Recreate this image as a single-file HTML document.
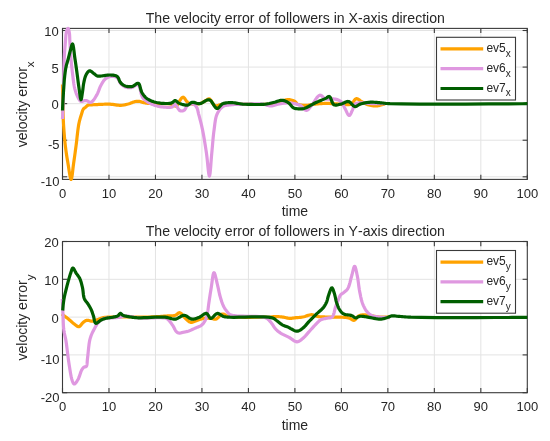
<!DOCTYPE html>
<html><head><meta charset="utf-8"><title>velocity error</title>
<style>html,body{margin:0;padding:0;background:#fff;}svg{display:block;font-kerning:none;}</style></head>
<body>
<svg width="550" height="441" viewBox="0 0 550 441" font-family="'Liberation Sans', Arial, Helvetica, sans-serif" fill="#262626">
<rect width="550" height="441" fill="#fff"/>
<line x1="108.98" y1="28.4" x2="108.98" y2="179.4" stroke="#e3e3e3" stroke-width="1"/>
<line x1="155.46" y1="28.4" x2="155.46" y2="179.4" stroke="#e3e3e3" stroke-width="1"/>
<line x1="201.94" y1="28.4" x2="201.94" y2="179.4" stroke="#e3e3e3" stroke-width="1"/>
<line x1="248.42" y1="28.4" x2="248.42" y2="179.4" stroke="#e3e3e3" stroke-width="1"/>
<line x1="294.90" y1="28.4" x2="294.90" y2="179.4" stroke="#e3e3e3" stroke-width="1"/>
<line x1="341.38" y1="28.4" x2="341.38" y2="179.4" stroke="#e3e3e3" stroke-width="1"/>
<line x1="387.86" y1="28.4" x2="387.86" y2="179.4" stroke="#e3e3e3" stroke-width="1"/>
<line x1="434.34" y1="28.4" x2="434.34" y2="179.4" stroke="#e3e3e3" stroke-width="1"/>
<line x1="480.82" y1="28.4" x2="480.82" y2="179.4" stroke="#e3e3e3" stroke-width="1"/>
<line x1="62.5" y1="30.50" x2="527.3" y2="30.50" stroke="#e3e3e3" stroke-width="1"/>
<line x1="62.5" y1="67.08" x2="527.3" y2="67.08" stroke="#e3e3e3" stroke-width="1"/>
<line x1="62.5" y1="103.65" x2="527.3" y2="103.65" stroke="#e3e3e3" stroke-width="1"/>
<line x1="62.5" y1="140.23" x2="527.3" y2="140.23" stroke="#e3e3e3" stroke-width="1"/>
<line x1="62.5" y1="176.80" x2="527.3" y2="176.80" stroke="#e3e3e3" stroke-width="1"/>
<rect x="62.5" y="28.4" width="464.8" height="151.0" fill="none" stroke="#3a3a3a" stroke-width="1.1"/>
<line x1="62.50" y1="179.4" x2="62.50" y2="174.70000000000002" stroke="#3a3a3a" stroke-width="1.1"/>
<line x1="62.50" y1="28.4" x2="62.50" y2="33.1" stroke="#3a3a3a" stroke-width="1.1"/>
<line x1="108.98" y1="179.4" x2="108.98" y2="174.70000000000002" stroke="#3a3a3a" stroke-width="1.1"/>
<line x1="108.98" y1="28.4" x2="108.98" y2="33.1" stroke="#3a3a3a" stroke-width="1.1"/>
<line x1="155.46" y1="179.4" x2="155.46" y2="174.70000000000002" stroke="#3a3a3a" stroke-width="1.1"/>
<line x1="155.46" y1="28.4" x2="155.46" y2="33.1" stroke="#3a3a3a" stroke-width="1.1"/>
<line x1="201.94" y1="179.4" x2="201.94" y2="174.70000000000002" stroke="#3a3a3a" stroke-width="1.1"/>
<line x1="201.94" y1="28.4" x2="201.94" y2="33.1" stroke="#3a3a3a" stroke-width="1.1"/>
<line x1="248.42" y1="179.4" x2="248.42" y2="174.70000000000002" stroke="#3a3a3a" stroke-width="1.1"/>
<line x1="248.42" y1="28.4" x2="248.42" y2="33.1" stroke="#3a3a3a" stroke-width="1.1"/>
<line x1="294.90" y1="179.4" x2="294.90" y2="174.70000000000002" stroke="#3a3a3a" stroke-width="1.1"/>
<line x1="294.90" y1="28.4" x2="294.90" y2="33.1" stroke="#3a3a3a" stroke-width="1.1"/>
<line x1="341.38" y1="179.4" x2="341.38" y2="174.70000000000002" stroke="#3a3a3a" stroke-width="1.1"/>
<line x1="341.38" y1="28.4" x2="341.38" y2="33.1" stroke="#3a3a3a" stroke-width="1.1"/>
<line x1="387.86" y1="179.4" x2="387.86" y2="174.70000000000002" stroke="#3a3a3a" stroke-width="1.1"/>
<line x1="387.86" y1="28.4" x2="387.86" y2="33.1" stroke="#3a3a3a" stroke-width="1.1"/>
<line x1="434.34" y1="179.4" x2="434.34" y2="174.70000000000002" stroke="#3a3a3a" stroke-width="1.1"/>
<line x1="434.34" y1="28.4" x2="434.34" y2="33.1" stroke="#3a3a3a" stroke-width="1.1"/>
<line x1="480.82" y1="179.4" x2="480.82" y2="174.70000000000002" stroke="#3a3a3a" stroke-width="1.1"/>
<line x1="480.82" y1="28.4" x2="480.82" y2="33.1" stroke="#3a3a3a" stroke-width="1.1"/>
<line x1="527.30" y1="179.4" x2="527.30" y2="174.70000000000002" stroke="#3a3a3a" stroke-width="1.1"/>
<line x1="527.30" y1="28.4" x2="527.30" y2="33.1" stroke="#3a3a3a" stroke-width="1.1"/>
<line x1="62.5" y1="30.50" x2="67.2" y2="30.50" stroke="#3a3a3a" stroke-width="1.1"/>
<line x1="527.3" y1="30.50" x2="522.5999999999999" y2="30.50" stroke="#3a3a3a" stroke-width="1.1"/>
<line x1="62.5" y1="67.08" x2="67.2" y2="67.08" stroke="#3a3a3a" stroke-width="1.1"/>
<line x1="527.3" y1="67.08" x2="522.5999999999999" y2="67.08" stroke="#3a3a3a" stroke-width="1.1"/>
<line x1="62.5" y1="103.65" x2="67.2" y2="103.65" stroke="#3a3a3a" stroke-width="1.1"/>
<line x1="527.3" y1="103.65" x2="522.5999999999999" y2="103.65" stroke="#3a3a3a" stroke-width="1.1"/>
<line x1="62.5" y1="140.23" x2="67.2" y2="140.23" stroke="#3a3a3a" stroke-width="1.1"/>
<line x1="527.3" y1="140.23" x2="522.5999999999999" y2="140.23" stroke="#3a3a3a" stroke-width="1.1"/>
<line x1="62.5" y1="176.80" x2="67.2" y2="176.80" stroke="#3a3a3a" stroke-width="1.1"/>
<line x1="527.3" y1="176.80" x2="522.5999999999999" y2="176.80" stroke="#3a3a3a" stroke-width="1.1"/>
<g fill="none" stroke-width="3.2" stroke-linejoin="round" stroke-linecap="butt">
<polyline points="62.50,84.50 62.51,84.94 62.53,86.13 62.56,87.93 62.60,90.15 62.65,92.63 62.70,95.21 62.75,97.72 62.80,100.00 62.85,102.54 62.90,105.17 62.95,107.87 63.01,110.62 63.08,113.40 63.16,116.20 63.27,119.01 63.40,121.80 63.57,124.73 63.75,127.71 63.96,130.72 64.19,133.74 64.44,136.75 64.71,139.70 64.99,142.60 65.30,145.40 65.59,147.79 65.89,150.13 66.22,152.42 66.55,154.68 66.90,156.91 67.26,159.12 67.63,161.31 68.00,163.50 68.37,165.76 68.75,168.30 69.15,170.94 69.55,173.51 69.96,175.82 70.35,177.69 70.74,178.95 71.10,179.40 71.44,178.94 71.77,177.68 72.09,175.81 72.40,173.50 72.70,170.93 73.00,168.29 73.30,165.75 73.60,163.50 73.92,161.31 74.24,159.10 74.55,156.87 74.86,154.63 75.17,152.36 75.48,150.07 75.79,147.75 76.10,145.40 76.44,142.71 76.77,139.87 77.09,136.95 77.42,134.03 77.76,131.16 78.11,128.43 78.49,125.88 78.90,123.60 79.19,122.25 79.49,120.98 79.80,119.78 80.11,118.65 80.44,117.56 80.76,116.51 81.08,115.50 81.40,114.50 81.64,113.72 81.87,112.94 82.09,112.17 82.32,111.44 82.55,110.74 82.81,110.09 83.09,109.51 83.40,109.00 83.63,108.71 83.88,108.46 84.14,108.25 84.40,108.06 84.67,107.88 84.95,107.70 85.23,107.51 85.50,107.30 85.80,107.03 86.11,106.74 86.42,106.44 86.73,106.14 87.05,105.85 87.37,105.59 87.68,105.37 88.00,105.20 88.24,105.11 88.46,105.06 88.68,105.03 88.90,105.02 89.14,105.02 89.39,105.02 89.68,105.02 90.00,105.00 90.88,104.93 91.96,104.86 93.19,104.77 94.52,104.69 95.91,104.61 97.32,104.53 98.70,104.46 100.00,104.40 101.25,104.35 102.49,104.29 103.73,104.24 104.97,104.20 106.22,104.17 107.47,104.16 108.73,104.16 110.00,104.20 111.37,104.29 112.77,104.45 114.20,104.65 115.63,104.85 117.04,105.05 118.42,105.21 119.74,105.30 121.00,105.30 121.95,105.24 122.86,105.14 123.74,105.00 124.59,104.84 125.44,104.65 126.28,104.44 127.13,104.23 128.00,104.00 128.94,103.72 129.91,103.39 130.88,103.02 131.85,102.64 132.81,102.28 133.75,101.95 134.65,101.68 135.50,101.50 136.12,101.41 136.72,101.36 137.30,101.32 137.87,101.32 138.43,101.33 138.97,101.37 139.49,101.43 140.00,101.50 140.40,101.58 140.77,101.69 141.12,101.82 141.46,101.96 141.81,102.10 142.17,102.25 142.57,102.38 143.00,102.50 143.71,102.66 144.45,102.80 145.24,102.94 146.08,103.07 146.98,103.19 147.92,103.30 148.93,103.40 150.00,103.50 152.08,103.61 154.54,103.64 157.25,103.63 160.07,103.61 162.89,103.60 165.57,103.64 167.98,103.77 170.00,104.00 170.99,104.24 171.91,104.59 172.77,104.99 173.57,105.39 174.32,105.74 175.02,106.00 175.68,106.10 176.30,106.00 176.82,105.69 177.27,105.20 177.67,104.57 178.03,103.86 178.37,103.10 178.72,102.34 179.09,101.62 179.50,101.00 179.92,100.43 180.35,99.81 180.79,99.17 181.24,98.56 181.70,98.02 182.16,97.59 182.63,97.30 183.10,97.20 183.64,97.38 184.18,97.85 184.72,98.52 185.27,99.33 185.83,100.19 186.40,101.02 186.99,101.75 187.60,102.30 188.11,102.64 188.62,102.93 189.14,103.19 189.67,103.41 190.21,103.60 190.78,103.76 191.37,103.89 192.00,104.00 192.89,104.10 193.86,104.16 194.90,104.16 195.96,104.12 197.03,104.03 198.07,103.89 199.07,103.72 200.00,103.50 200.75,103.26 201.47,102.96 202.17,102.62 202.84,102.25 203.50,101.87 204.14,101.49 204.78,101.13 205.40,100.80 205.92,100.51 206.42,100.17 206.90,99.82 207.38,99.49 207.86,99.20 208.33,98.98 208.81,98.87 209.30,98.90 209.99,99.27 210.66,99.99 211.33,100.97 212.00,102.08 212.69,103.21 213.42,104.25 214.18,105.09 215.00,105.60 215.77,105.78 216.55,105.78 217.35,105.65 218.18,105.42 219.05,105.15 219.98,104.88 220.95,104.65 222.00,104.50 223.82,104.38 225.80,104.32 227.93,104.29 230.19,104.28 232.55,104.29 234.98,104.31 237.47,104.31 240.00,104.30 243.48,104.30 247.29,104.35 251.30,104.42 255.38,104.49 259.42,104.50 263.29,104.45 266.86,104.29 270.00,104.00 271.80,103.72 273.48,103.37 275.07,102.98 276.58,102.56 278.01,102.13 279.39,101.71 280.71,101.33 282.00,101.00 282.91,100.77 283.76,100.53 284.58,100.28 285.38,100.05 286.15,99.86 286.92,99.70 287.70,99.61 288.50,99.60 289.34,99.67 290.21,99.80 291.09,99.99 291.97,100.22 292.82,100.50 293.62,100.82 294.35,101.15 295.00,101.50 295.40,101.79 295.73,102.11 296.02,102.46 296.28,102.82 296.55,103.18 296.84,103.52 297.18,103.83 297.60,104.10 298.33,104.42 299.17,104.69 300.10,104.90 301.09,105.08 302.13,105.21 303.19,105.30 304.25,105.37 305.30,105.40 306.50,105.38 307.73,105.27 308.98,105.10 310.26,104.90 311.55,104.67 312.84,104.45 314.12,104.25 315.40,104.10 316.66,103.98 317.90,103.86 319.13,103.74 320.37,103.64 321.62,103.55 322.90,103.48 324.23,103.43 325.60,103.40 327.39,103.41 329.28,103.47 331.25,103.57 333.25,103.69 335.26,103.82 337.22,103.94 339.12,104.04 340.90,104.10 342.29,104.17 343.67,104.29 345.03,104.43 346.35,104.55 347.62,104.61 348.82,104.58 349.96,104.42 351.00,104.10 351.81,103.60 352.53,102.89 353.19,102.04 353.81,101.14 354.41,100.28 355.01,99.53 355.63,98.97 356.30,98.70 356.92,98.71 357.55,98.90 358.19,99.22 358.84,99.65 359.49,100.13 360.15,100.63 360.82,101.10 361.50,101.50 362.25,101.91 363.00,102.34 363.75,102.77 364.52,103.21 365.30,103.63 366.11,104.03 366.94,104.39 367.80,104.70 368.84,105.00 369.95,105.28 371.11,105.52 372.29,105.72 373.46,105.87 374.61,105.97 375.70,106.02 376.70,106.00 377.42,105.93 378.11,105.80 378.77,105.64 379.42,105.45 380.04,105.24 380.64,105.04 381.23,104.85 381.80,104.70 382.28,104.59 382.80,104.47 383.33,104.35 383.85,104.24 384.30,104.15 384.67,104.07 384.91,104.02 385.00,104.00" stroke="#ffa200"/>
<polyline points="62.50,119.00 62.52,118.49 62.58,117.09 62.66,114.97 62.76,112.33 62.88,109.32 62.99,106.15 63.10,102.98 63.20,100.00 63.32,95.50 63.43,90.43 63.53,84.98 63.64,79.36 63.75,73.76 63.88,68.36 64.03,63.38 64.20,59.00 64.33,56.49 64.46,54.13 64.61,51.90 64.76,49.78 64.91,47.75 65.07,45.79 65.24,43.88 65.40,42.00 65.52,40.52 65.62,39.05 65.72,37.59 65.82,36.19 65.94,34.85 66.09,33.61 66.27,32.49 66.50,31.50 66.66,30.97 66.84,30.43 67.03,29.90 67.23,29.42 67.43,29.00 67.63,28.68 67.82,28.47 68.00,28.40 68.19,28.52 68.37,28.82 68.55,29.27 68.72,29.84 68.88,30.48 69.03,31.16 69.17,31.84 69.30,32.50 69.45,33.47 69.56,34.52 69.63,35.64 69.69,36.82 69.73,38.06 69.77,39.34 69.83,40.65 69.90,42.00 70.02,43.89 70.14,45.92 70.26,48.04 70.39,50.23 70.52,52.45 70.67,54.67 70.83,56.87 71.00,59.00 71.18,61.03 71.37,63.07 71.57,65.10 71.78,67.13 72.00,69.13 72.22,71.12 72.46,73.08 72.70,75.00 72.92,76.74 73.12,78.48 73.33,80.20 73.55,81.90 73.78,83.57 74.05,85.20 74.35,86.78 74.70,88.30 75.04,89.56 75.40,90.81 75.79,92.04 76.19,93.23 76.62,94.38 77.07,95.46 77.53,96.47 78.00,97.40 78.34,98.03 78.67,98.66 79.00,99.27 79.35,99.84 79.71,100.35 80.10,100.79 80.53,101.15 81.00,101.40 81.53,101.50 82.13,101.45 82.76,101.30 83.42,101.08 84.09,100.84 84.75,100.63 85.40,100.51 86.00,100.50 86.54,100.62 87.08,100.84 87.62,101.11 88.14,101.42 88.64,101.72 89.13,101.99 89.58,102.19 90.00,102.30 90.24,102.33 90.46,102.34 90.67,102.35 90.87,102.33 91.06,102.29 91.27,102.22 91.48,102.13 91.70,102.00 92.26,101.55 92.88,100.89 93.54,100.06 94.22,99.10 94.90,98.07 95.57,96.99 96.21,95.92 96.80,94.90 97.38,93.78 97.91,92.60 98.41,91.37 98.89,90.11 99.37,88.86 99.85,87.65 100.36,86.48 100.90,85.40 101.37,84.53 101.84,83.68 102.31,82.85 102.79,82.04 103.30,81.28 103.83,80.56 104.39,79.90 105.00,79.30 105.59,78.80 106.22,78.33 106.87,77.90 107.55,77.51 108.24,77.17 108.95,76.88 109.67,76.66 110.40,76.50 111.20,76.40 112.05,76.35 112.94,76.37 113.83,76.45 114.71,76.60 115.54,76.82 116.31,77.12 117.00,77.50 117.59,78.02 118.09,78.70 118.51,79.48 118.89,80.33 119.27,81.20 119.66,82.04 120.09,82.83 120.60,83.50 121.12,84.05 121.67,84.58 122.23,85.08 122.82,85.56 123.43,85.99 124.07,86.38 124.72,86.72 125.40,87.00 126.15,87.24 126.95,87.44 127.79,87.58 128.64,87.67 129.50,87.71 130.36,87.70 131.19,87.63 132.00,87.50 132.80,87.23 133.60,86.77 134.40,86.20 135.19,85.60 135.95,85.06 136.68,84.64 137.37,84.43 138.00,84.50 138.76,85.18 139.37,86.42 139.88,88.07 140.33,89.97 140.77,91.98 141.23,93.92 141.76,95.64 142.40,97.00 142.90,97.74 143.41,98.39 143.94,98.99 144.49,99.53 145.07,100.04 145.68,100.53 146.32,101.01 147.00,101.50 147.86,102.07 148.77,102.63 149.74,103.17 150.74,103.68 151.78,104.16 152.84,104.61 153.92,105.03 155.00,105.40 156.19,105.76 157.43,106.07 158.72,106.35 160.01,106.59 161.31,106.80 162.59,106.96 163.82,107.10 165.00,107.20 165.95,107.27 166.91,107.34 167.86,107.39 168.79,107.41 169.68,107.40 170.52,107.33 171.30,107.20 172.00,107.00 172.46,106.75 172.87,106.41 173.24,106.00 173.59,105.58 173.92,105.19 174.26,104.86 174.61,104.65 175.00,104.60 175.60,104.88 176.22,105.54 176.85,106.45 177.50,107.50 178.17,108.58 178.84,109.56 179.52,110.34 180.20,110.80 180.69,110.94 181.21,111.01 181.73,111.02 182.25,110.96 182.77,110.84 183.27,110.67 183.75,110.46 184.20,110.20 184.69,109.77 185.11,109.17 185.49,108.46 185.85,107.70 186.22,106.93 186.61,106.20 187.07,105.58 187.60,105.10 188.21,104.75 188.91,104.44 189.66,104.19 190.43,104.00 191.21,103.87 191.96,103.83 192.67,103.87 193.30,104.00 193.82,104.21 194.31,104.51 194.77,104.88 195.21,105.31 195.62,105.79 196.00,106.31 196.36,106.85 196.70,107.40 197.06,108.10 197.36,108.85 197.60,109.64 197.82,110.49 198.02,111.38 198.22,112.31 198.44,113.28 198.70,114.30 199.13,115.91 199.59,117.64 200.08,119.48 200.57,121.41 201.07,123.42 201.56,125.48 202.04,127.58 202.50,129.70 203.03,132.36 203.55,135.13 204.06,138.01 204.56,140.94 205.04,143.92 205.51,146.90 205.96,149.87 206.40,152.80 206.82,156.01 207.23,159.68 207.62,163.53 207.99,167.30 208.36,170.70 208.71,173.46 209.06,175.32 209.40,176.00 209.73,175.32 210.04,173.46 210.35,170.69 210.64,167.29 210.93,163.53 211.22,159.68 211.51,156.01 211.80,152.80 212.08,149.88 212.35,146.91 212.61,143.92 212.87,140.95 213.14,138.01 213.43,135.14 213.75,132.36 214.10,129.70 214.38,127.58 214.64,125.48 214.90,123.41 215.18,121.41 215.50,119.47 215.90,117.63 216.39,115.90 217.00,114.30 217.56,113.11 218.17,111.96 218.82,110.87 219.53,109.83 220.28,108.88 221.08,108.01 221.92,107.25 222.80,106.60 223.64,106.13 224.52,105.77 225.44,105.51 226.40,105.31 227.39,105.17 228.40,105.05 229.44,104.93 230.50,104.80 231.80,104.65 233.13,104.54 234.50,104.47 235.90,104.42 237.35,104.39 238.85,104.37 240.39,104.34 242.00,104.30 244.29,104.22 246.80,104.11 249.45,103.99 252.16,103.88 254.85,103.81 257.44,103.79 259.85,103.85 262.00,104.00 263.31,104.19 264.54,104.47 265.70,104.81 266.80,105.16 267.87,105.49 268.92,105.76 269.96,105.94 271.00,106.00 271.90,105.93 272.77,105.77 273.60,105.54 274.43,105.26 275.27,104.97 276.13,104.68 277.04,104.41 278.00,104.20 279.35,103.96 280.79,103.72 282.30,103.49 283.86,103.28 285.43,103.11 287.00,103.00 288.53,102.95 290.00,103.00 291.34,103.11 292.69,103.28 294.04,103.50 295.36,103.77 296.65,104.09 297.90,104.47 299.09,104.91 300.20,105.40 301.11,105.97 301.97,106.71 302.78,107.54 303.56,108.39 304.31,109.18 305.05,109.83 305.77,110.26 306.50,110.40 307.17,110.24 307.81,109.86 308.43,109.31 309.05,108.62 309.66,107.85 310.28,107.02 310.93,106.19 311.60,105.40 312.56,104.19 313.57,102.71 314.62,101.07 315.68,99.42 316.75,97.88 317.82,96.58 318.87,95.64 319.90,95.20 320.61,95.25 321.30,95.58 321.97,96.10 322.64,96.74 323.33,97.42 324.04,98.08 324.79,98.63 325.60,99.00 326.60,99.20 327.69,99.25 328.83,99.20 330.00,99.10 331.18,98.98 332.34,98.90 333.45,98.89 334.50,99.00 335.38,99.18 336.26,99.38 337.12,99.61 337.95,99.88 338.76,100.20 339.52,100.57 340.24,101.00 340.90,101.50 341.51,102.11 342.05,102.81 342.52,103.59 342.96,104.42 343.38,105.29 343.80,106.17 344.23,107.05 344.70,107.90 345.25,108.92 345.82,110.11 346.40,111.37 346.98,112.61 347.55,113.73 348.12,114.65 348.67,115.27 349.20,115.50 349.62,115.36 350.03,114.96 350.43,114.37 350.82,113.64 351.21,112.82 351.58,111.97 351.95,111.14 352.30,110.40 352.64,109.62 352.92,108.77 353.18,107.88 353.43,106.98 353.71,106.13 354.03,105.33 354.42,104.65 354.90,104.10 355.40,103.74 355.95,103.46 356.54,103.26 357.17,103.11 357.84,103.00 358.54,102.93 359.26,102.86 360.00,102.80 361.07,102.75 362.21,102.78 363.41,102.87 364.66,103.00 365.95,103.15 367.28,103.29 368.63,103.42 370.00,103.50 371.93,103.56 374.24,103.61 376.72,103.65 379.18,103.67 381.44,103.69 383.29,103.70 384.54,103.70 385.00,103.70" stroke="#df98e0"/>
<polyline points="62.50,110.50 62.51,110.19 62.55,109.35 62.61,108.09 62.68,106.55 62.76,104.84 62.84,103.10 62.93,101.44 63.00,100.00 63.07,98.74 63.14,97.50 63.21,96.27 63.28,95.04 63.35,93.81 63.43,92.56 63.51,91.29 63.60,90.00 63.70,88.55 63.79,87.06 63.89,85.56 63.99,84.03 64.10,82.51 64.22,80.99 64.35,79.48 64.50,78.00 64.65,76.59 64.80,75.17 64.97,73.75 65.14,72.35 65.33,70.97 65.53,69.61 65.75,68.28 66.00,67.00 66.24,65.94 66.49,64.91 66.76,63.92 67.05,62.94 67.34,61.97 67.63,61.00 67.92,60.01 68.20,59.00 68.49,57.89 68.77,56.74 69.06,55.58 69.34,54.42 69.63,53.26 69.92,52.13 70.21,51.04 70.50,50.00 70.75,49.10 71.00,48.12 71.26,47.12 71.51,46.15 71.77,45.29 72.02,44.61 72.26,44.15 72.50,44.00 72.85,44.46 73.19,45.68 73.51,47.48 73.82,49.68 74.13,52.11 74.42,54.59 74.71,56.95 75.00,59.00 75.27,60.77 75.53,62.52 75.78,64.26 76.03,66.00 76.27,67.73 76.51,69.48 76.76,71.23 77.00,73.00 77.25,74.86 77.50,76.76 77.74,78.67 77.99,80.59 78.23,82.49 78.48,84.37 78.74,86.21 79.00,88.00 79.24,89.69 79.49,91.58 79.74,93.52 80.00,95.40 80.25,97.09 80.51,98.45 80.76,99.37 81.00,99.70 81.19,99.48 81.39,98.88 81.58,97.98 81.78,96.86 81.96,95.62 82.15,94.34 82.33,93.10 82.50,92.00 82.67,90.87 82.82,89.72 82.96,88.54 83.10,87.34 83.25,86.15 83.40,84.98 83.59,83.82 83.80,82.70 84.01,81.68 84.23,80.65 84.46,79.62 84.70,78.62 84.97,77.64 85.27,76.70 85.61,75.82 86.00,75.00 86.36,74.33 86.74,73.65 87.15,72.97 87.59,72.33 88.04,71.77 88.51,71.31 89.00,70.97 89.50,70.80 90.02,70.82 90.57,71.02 91.14,71.35 91.73,71.78 92.32,72.25 92.90,72.75 93.46,73.21 94.00,73.60 94.45,73.92 94.88,74.26 95.29,74.61 95.70,74.96 96.11,75.29 96.53,75.58 96.96,75.82 97.40,76.00 97.82,76.11 98.23,76.16 98.65,76.18 99.07,76.16 99.51,76.13 99.97,76.08 100.47,76.04 101.00,76.00 101.97,75.91 103.08,75.77 104.27,75.59 105.52,75.39 106.80,75.21 108.06,75.07 109.27,74.99 110.40,75.00 111.33,75.05 112.26,75.11 113.19,75.20 114.09,75.32 114.95,75.50 115.77,75.75 116.52,76.08 117.20,76.50 117.78,77.07 118.25,77.78 118.64,78.60 118.99,79.47 119.33,80.37 119.69,81.23 120.10,82.02 120.60,82.70 121.11,83.24 121.65,83.74 122.22,84.22 122.81,84.66 123.42,85.06 124.06,85.42 124.72,85.73 125.40,86.00 126.18,86.24 127.00,86.44 127.86,86.58 128.74,86.68 129.63,86.72 130.51,86.71 131.37,86.64 132.20,86.50 133.02,86.21 133.85,85.73 134.67,85.14 135.48,84.51 136.26,83.94 137.00,83.49 137.68,83.25 138.30,83.30 138.91,83.78 139.40,84.63 139.80,85.75 140.16,87.06 140.49,88.46 140.83,89.84 141.23,91.12 141.70,92.20 142.15,92.98 142.63,93.74 143.12,94.47 143.63,95.17 144.15,95.84 144.69,96.47 145.24,97.05 145.80,97.60 146.30,98.03 146.81,98.43 147.33,98.80 147.87,99.14 148.41,99.45 148.94,99.75 149.48,100.03 150.00,100.30 150.44,100.52 150.86,100.72 151.28,100.90 151.69,101.07 152.12,101.23 152.58,101.39 153.07,101.54 153.60,101.70 154.53,101.95 155.57,102.22 156.70,102.48 157.88,102.72 159.10,102.95 160.32,103.14 161.53,103.30 162.70,103.40 163.86,103.46 165.06,103.51 166.28,103.52 167.49,103.50 168.67,103.44 169.78,103.32 170.80,103.14 171.70,102.90 172.23,102.66 172.70,102.33 173.13,101.95 173.53,101.56 173.92,101.20 174.30,100.89 174.69,100.68 175.10,100.60 175.52,100.67 175.93,100.87 176.34,101.16 176.75,101.51 177.17,101.89 177.60,102.27 178.04,102.62 178.50,102.90 179.03,103.16 179.58,103.41 180.15,103.65 180.74,103.88 181.33,104.09 181.92,104.28 182.51,104.45 183.10,104.60 183.66,104.74 184.23,104.87 184.79,105.00 185.36,105.10 185.93,105.18 186.49,105.21 187.05,105.19 187.60,105.10 188.18,104.89 188.74,104.56 189.28,104.15 189.83,103.69 190.38,103.24 190.95,102.83 191.55,102.50 192.20,102.30 193.02,102.26 193.88,102.39 194.79,102.64 195.72,102.95 196.68,103.27 197.65,103.53 198.62,103.70 199.60,103.70 200.78,103.42 202.01,102.87 203.26,102.16 204.53,101.39 205.79,100.66 207.01,100.08 208.19,99.76 209.30,99.80 210.39,100.37 211.42,101.43 212.40,102.81 213.35,104.34 214.27,105.85 215.17,107.16 216.08,108.10 217.00,108.50 217.72,108.38 218.42,107.95 219.09,107.31 219.77,106.53 220.46,105.69 221.18,104.89 221.96,104.20 222.80,103.70 223.84,103.33 224.97,103.06 226.15,102.88 227.38,102.76 228.64,102.70 229.90,102.68 231.16,102.68 232.40,102.70 233.64,102.76 234.85,102.90 236.06,103.09 237.27,103.32 238.52,103.55 239.83,103.77 241.21,103.96 242.70,104.10 245.20,104.24 248.04,104.36 251.09,104.44 254.25,104.49 257.40,104.48 260.42,104.42 263.19,104.29 265.60,104.10 266.92,103.93 268.14,103.73 269.28,103.50 270.36,103.25 271.40,102.99 272.42,102.72 273.45,102.45 274.50,102.20 275.50,101.94 276.49,101.62 277.47,101.29 278.44,100.96 279.41,100.67 280.35,100.44 281.29,100.31 282.20,100.30 283.03,100.40 283.86,100.58 284.68,100.83 285.48,101.14 286.27,101.51 287.04,101.91 287.78,102.34 288.50,102.80 289.20,103.35 289.86,104.00 290.49,104.72 291.11,105.47 291.71,106.20 292.32,106.88 292.95,107.46 293.60,107.90 294.13,108.15 294.66,108.34 295.19,108.49 295.73,108.59 296.28,108.66 296.84,108.72 297.41,108.76 298.00,108.80 298.69,108.85 299.40,108.90 300.11,108.92 300.85,108.92 301.60,108.89 302.37,108.82 303.17,108.69 304.00,108.50 305.28,108.08 306.64,107.49 308.07,106.77 309.53,105.98 311.02,105.14 312.51,104.30 313.98,103.51 315.40,102.80 316.73,102.20 318.10,101.60 319.48,101.01 320.84,100.44 322.16,99.89 323.41,99.36 324.57,98.87 325.60,98.40 326.17,98.09 326.70,97.74 327.19,97.38 327.66,97.04 328.10,96.75 328.54,96.54 328.97,96.45 329.40,96.50 330.00,96.96 330.53,97.85 331.02,99.03 331.50,100.37 331.99,101.74 332.54,103.01 333.16,104.04 333.90,104.70 334.64,104.98 335.45,105.09 336.31,105.08 337.21,104.96 338.14,104.77 339.08,104.54 340.00,104.31 340.90,104.10 341.85,103.82 342.82,103.41 343.80,102.94 344.77,102.45 345.74,102.01 346.69,101.66 347.61,101.47 348.50,101.50 349.36,101.83 350.19,102.43 351.00,103.23 351.79,104.11 352.57,104.99 353.34,105.76 354.12,106.33 354.90,106.60 355.55,106.58 356.18,106.39 356.81,106.08 357.43,105.68 358.07,105.24 358.73,104.81 359.44,104.41 360.20,104.10 361.30,103.77 362.50,103.45 363.76,103.16 365.07,102.89 366.42,102.66 367.76,102.46 369.10,102.31 370.40,102.20 371.66,102.15 372.93,102.17 374.20,102.23 375.47,102.33 376.73,102.44 378.00,102.57 379.25,102.69 380.50,102.80 381.63,102.90 382.64,103.01 383.60,103.13 384.57,103.25 385.63,103.38 386.85,103.49 388.28,103.60 390.00,103.70 401.37,103.96 419.49,104.08 441.81,104.10 465.79,104.04 488.88,103.94 508.52,103.83 522.18,103.74 527.30,103.70" stroke="#005e00"/>
</g>
<text x="62.50" y="198.0" text-anchor="middle" font-size="13">0</text>
<text x="108.98" y="198.0" text-anchor="middle" font-size="13">10</text>
<text x="155.46" y="198.0" text-anchor="middle" font-size="13">20</text>
<text x="201.94" y="198.0" text-anchor="middle" font-size="13">30</text>
<text x="248.42" y="198.0" text-anchor="middle" font-size="13">40</text>
<text x="294.90" y="198.0" text-anchor="middle" font-size="13">50</text>
<text x="341.38" y="198.0" text-anchor="middle" font-size="13">60</text>
<text x="387.86" y="198.0" text-anchor="middle" font-size="13">70</text>
<text x="434.34" y="198.0" text-anchor="middle" font-size="13">80</text>
<text x="480.82" y="198.0" text-anchor="middle" font-size="13">90</text>
<text x="527.30" y="198.0" text-anchor="middle" font-size="13">100</text>
<text x="58.8" y="36.1" text-anchor="end" font-size="13">10</text>
<text x="58.8" y="72.7" text-anchor="end" font-size="13">5</text>
<text x="58.8" y="109.2" text-anchor="end" font-size="13">0</text>
<text x="59.5" y="149.0" text-anchor="end" font-size="13">-5</text>
<text x="59.5" y="185.6" text-anchor="end" font-size="13">-10</text>
<text x="294.9" y="216.3" text-anchor="middle" font-size="14">time</text>
<text transform="translate(27.0,104.3) rotate(-90)" text-anchor="middle" font-size="14">velocity error<tspan font-size="11.6" dy="6.5">x</tspan></text>
<text x="295.3" y="22.8" text-anchor="middle" font-size="14.1">The velocity error of followers in X-axis direction</text>
<rect x="436.5" y="37.3" width="79" height="62.7" fill="#fff" stroke="#3a3a3a" stroke-width="1.1"/>
<line x1="440.5" y1="48.9" x2="483.2" y2="48.9" stroke="#ffa200" stroke-width="3.2"/>
<text x="486.4" y="51.9" font-size="12">ev5<tspan font-size="10" dy="4.8">x</tspan></text>
<line x1="440.5" y1="68.7" x2="483.2" y2="68.7" stroke="#df98e0" stroke-width="3.2"/>
<text x="486.4" y="71.7" font-size="12">ev6<tspan font-size="10" dy="4.8">x</tspan></text>
<line x1="440.5" y1="88.5" x2="483.2" y2="88.5" stroke="#005e00" stroke-width="3.2"/>
<text x="486.4" y="91.5" font-size="12">ev7<tspan font-size="10" dy="4.8">x</tspan></text>
<line x1="108.98" y1="241.5" x2="108.98" y2="392.7" stroke="#e3e3e3" stroke-width="1"/>
<line x1="155.46" y1="241.5" x2="155.46" y2="392.7" stroke="#e3e3e3" stroke-width="1"/>
<line x1="201.94" y1="241.5" x2="201.94" y2="392.7" stroke="#e3e3e3" stroke-width="1"/>
<line x1="248.42" y1="241.5" x2="248.42" y2="392.7" stroke="#e3e3e3" stroke-width="1"/>
<line x1="294.90" y1="241.5" x2="294.90" y2="392.7" stroke="#e3e3e3" stroke-width="1"/>
<line x1="341.38" y1="241.5" x2="341.38" y2="392.7" stroke="#e3e3e3" stroke-width="1"/>
<line x1="387.86" y1="241.5" x2="387.86" y2="392.7" stroke="#e3e3e3" stroke-width="1"/>
<line x1="434.34" y1="241.5" x2="434.34" y2="392.7" stroke="#e3e3e3" stroke-width="1"/>
<line x1="480.82" y1="241.5" x2="480.82" y2="392.7" stroke="#e3e3e3" stroke-width="1"/>
<line x1="62.5" y1="279.30" x2="527.3" y2="279.30" stroke="#e3e3e3" stroke-width="1"/>
<line x1="62.5" y1="317.10" x2="527.3" y2="317.10" stroke="#e3e3e3" stroke-width="1"/>
<line x1="62.5" y1="354.90" x2="527.3" y2="354.90" stroke="#e3e3e3" stroke-width="1"/>
<rect x="62.5" y="241.5" width="464.8" height="151.2" fill="none" stroke="#3a3a3a" stroke-width="1.1"/>
<line x1="62.50" y1="392.7" x2="62.50" y2="388.0" stroke="#3a3a3a" stroke-width="1.1"/>
<line x1="62.50" y1="241.5" x2="62.50" y2="246.2" stroke="#3a3a3a" stroke-width="1.1"/>
<line x1="108.98" y1="392.7" x2="108.98" y2="388.0" stroke="#3a3a3a" stroke-width="1.1"/>
<line x1="108.98" y1="241.5" x2="108.98" y2="246.2" stroke="#3a3a3a" stroke-width="1.1"/>
<line x1="155.46" y1="392.7" x2="155.46" y2="388.0" stroke="#3a3a3a" stroke-width="1.1"/>
<line x1="155.46" y1="241.5" x2="155.46" y2="246.2" stroke="#3a3a3a" stroke-width="1.1"/>
<line x1="201.94" y1="392.7" x2="201.94" y2="388.0" stroke="#3a3a3a" stroke-width="1.1"/>
<line x1="201.94" y1="241.5" x2="201.94" y2="246.2" stroke="#3a3a3a" stroke-width="1.1"/>
<line x1="248.42" y1="392.7" x2="248.42" y2="388.0" stroke="#3a3a3a" stroke-width="1.1"/>
<line x1="248.42" y1="241.5" x2="248.42" y2="246.2" stroke="#3a3a3a" stroke-width="1.1"/>
<line x1="294.90" y1="392.7" x2="294.90" y2="388.0" stroke="#3a3a3a" stroke-width="1.1"/>
<line x1="294.90" y1="241.5" x2="294.90" y2="246.2" stroke="#3a3a3a" stroke-width="1.1"/>
<line x1="341.38" y1="392.7" x2="341.38" y2="388.0" stroke="#3a3a3a" stroke-width="1.1"/>
<line x1="341.38" y1="241.5" x2="341.38" y2="246.2" stroke="#3a3a3a" stroke-width="1.1"/>
<line x1="387.86" y1="392.7" x2="387.86" y2="388.0" stroke="#3a3a3a" stroke-width="1.1"/>
<line x1="387.86" y1="241.5" x2="387.86" y2="246.2" stroke="#3a3a3a" stroke-width="1.1"/>
<line x1="434.34" y1="392.7" x2="434.34" y2="388.0" stroke="#3a3a3a" stroke-width="1.1"/>
<line x1="434.34" y1="241.5" x2="434.34" y2="246.2" stroke="#3a3a3a" stroke-width="1.1"/>
<line x1="480.82" y1="392.7" x2="480.82" y2="388.0" stroke="#3a3a3a" stroke-width="1.1"/>
<line x1="480.82" y1="241.5" x2="480.82" y2="246.2" stroke="#3a3a3a" stroke-width="1.1"/>
<line x1="527.30" y1="392.7" x2="527.30" y2="388.0" stroke="#3a3a3a" stroke-width="1.1"/>
<line x1="527.30" y1="241.5" x2="527.30" y2="246.2" stroke="#3a3a3a" stroke-width="1.1"/>
<line x1="62.5" y1="241.50" x2="67.2" y2="241.50" stroke="#3a3a3a" stroke-width="1.1"/>
<line x1="527.3" y1="241.50" x2="522.5999999999999" y2="241.50" stroke="#3a3a3a" stroke-width="1.1"/>
<line x1="62.5" y1="279.30" x2="67.2" y2="279.30" stroke="#3a3a3a" stroke-width="1.1"/>
<line x1="527.3" y1="279.30" x2="522.5999999999999" y2="279.30" stroke="#3a3a3a" stroke-width="1.1"/>
<line x1="62.5" y1="317.10" x2="67.2" y2="317.10" stroke="#3a3a3a" stroke-width="1.1"/>
<line x1="527.3" y1="317.10" x2="522.5999999999999" y2="317.10" stroke="#3a3a3a" stroke-width="1.1"/>
<line x1="62.5" y1="354.90" x2="67.2" y2="354.90" stroke="#3a3a3a" stroke-width="1.1"/>
<line x1="527.3" y1="354.90" x2="522.5999999999999" y2="354.90" stroke="#3a3a3a" stroke-width="1.1"/>
<line x1="62.5" y1="392.70" x2="67.2" y2="392.70" stroke="#3a3a3a" stroke-width="1.1"/>
<line x1="527.3" y1="392.70" x2="522.5999999999999" y2="392.70" stroke="#3a3a3a" stroke-width="1.1"/>
<g fill="none" stroke-width="3.2" stroke-linejoin="round" stroke-linecap="butt">
<polyline points="61.80,314.00 61.89,314.07 62.14,314.26 62.52,314.54 62.98,314.88 63.50,315.27 64.03,315.67 64.54,316.05 65.00,316.40 65.47,316.75 65.94,317.11 66.41,317.47 66.89,317.83 67.38,318.20 67.88,318.59 68.38,318.99 68.90,319.40 69.54,319.93 70.20,320.51 70.87,321.12 71.56,321.73 72.25,322.34 72.94,322.94 73.62,323.49 74.30,324.00 74.88,324.44 75.47,324.91 76.05,325.39 76.63,325.83 77.21,326.22 77.78,326.51 78.35,326.68 78.90,326.70 79.49,326.49 80.06,326.07 80.63,325.48 81.18,324.79 81.74,324.06 82.29,323.34 82.84,322.70 83.40,322.20 83.84,321.87 84.28,321.56 84.71,321.27 85.14,321.00 85.58,320.77 86.03,320.57 86.50,320.41 87.00,320.30 87.62,320.27 88.28,320.35 88.97,320.51 89.67,320.71 90.39,320.91 91.10,321.08 91.81,321.19 92.50,321.20 93.18,321.11 93.86,320.94 94.53,320.72 95.21,320.47 95.88,320.19 96.55,319.91 97.22,319.64 97.90,319.40 98.56,319.17 99.20,318.92 99.82,318.68 100.45,318.43 101.10,318.20 101.80,317.97 102.56,317.77 103.40,317.60 105.00,317.37 106.79,317.22 108.74,317.13 110.82,317.08 113.01,317.05 115.29,317.04 117.63,317.03 120.00,317.00 123.44,316.96 127.26,316.96 131.31,316.98 135.45,317.01 139.54,317.04 143.42,317.06 146.96,317.05 150.00,317.00 151.52,316.96 152.91,316.91 154.20,316.85 155.42,316.79 156.59,316.72 157.72,316.65 158.85,316.57 160.00,316.50 161.00,316.43 161.97,316.36 162.92,316.29 163.86,316.21 164.79,316.13 165.72,316.05 166.65,315.98 167.60,315.90 168.58,315.84 169.58,315.82 170.59,315.80 171.60,315.78 172.60,315.73 173.55,315.65 174.46,315.51 175.30,315.30 175.93,315.02 176.51,314.63 177.07,314.19 177.60,313.72 178.11,313.29 178.63,312.95 179.16,312.74 179.70,312.70 180.40,312.94 181.11,313.46 181.82,314.17 182.54,315.01 183.25,315.93 183.97,316.84 184.69,317.69 185.40,318.40 186.03,318.98 186.66,319.58 187.29,320.19 187.91,320.77 188.55,321.30 189.19,321.75 189.84,322.09 190.50,322.30 191.11,322.36 191.72,322.31 192.34,322.18 192.96,321.98 193.60,321.74 194.25,321.48 194.91,321.23 195.60,321.00 196.49,320.71 197.42,320.36 198.37,319.99 199.35,319.60 200.33,319.23 201.33,318.89 202.32,318.61 203.30,318.40 204.25,318.28 205.23,318.20 206.21,318.18 207.19,318.19 208.16,318.22 209.10,318.28 210.02,318.34 210.90,318.40 211.59,318.49 212.25,318.63 212.89,318.80 213.52,318.97 214.14,319.12 214.75,319.21 215.37,319.21 216.00,319.10 216.79,318.73 217.58,318.10 218.37,317.32 219.16,316.46 219.95,315.61 220.73,314.86 221.52,314.29 222.30,314.00 222.93,313.98 223.55,314.11 224.16,314.35 224.78,314.66 225.40,315.01 226.04,315.36 226.71,315.67 227.40,315.90 228.24,316.10 229.06,316.28 229.90,316.43 230.78,316.57 231.70,316.69 232.70,316.80 233.79,316.90 235.00,317.00 237.98,317.15 241.72,317.24 245.96,317.28 250.41,317.28 254.82,317.26 258.90,317.23 262.38,317.21 265.00,317.20 265.75,317.21 266.39,317.22 266.94,317.23 267.45,317.24 267.93,317.24 268.41,317.24 268.93,317.23 269.50,317.20 270.24,317.14 271.01,317.05 271.79,316.94 272.60,316.82 273.41,316.70 274.23,316.60 275.07,316.53 275.90,316.50 276.82,316.51 277.77,316.55 278.73,316.62 279.70,316.72 280.67,316.82 281.63,316.95 282.58,317.07 283.50,317.20 284.33,317.34 285.16,317.51 285.97,317.70 286.78,317.89 287.58,318.07 288.36,318.23 289.14,318.34 289.90,318.40 290.56,318.40 291.19,318.36 291.81,318.29 292.42,318.20 293.03,318.10 293.66,317.99 294.32,317.89 295.00,317.80 295.88,317.71 296.80,317.63 297.75,317.56 298.72,317.48 299.71,317.39 300.70,317.29 301.70,317.16 302.70,317.00 303.81,316.75 304.96,316.41 306.12,316.03 307.29,315.64 308.45,315.27 309.58,314.96 310.67,314.76 311.70,314.70 312.47,314.77 313.19,314.93 313.89,315.16 314.56,315.42 315.24,315.70 315.93,315.98 316.64,316.22 317.40,316.40 318.32,316.55 319.27,316.67 320.24,316.75 321.24,316.82 322.25,316.87 323.29,316.92 324.34,316.96 325.40,317.00 326.64,317.04 327.90,317.06 329.19,317.06 330.50,317.05 331.83,317.05 333.17,317.05 334.53,317.06 335.90,317.10 337.47,317.14 339.12,317.17 340.82,317.21 342.52,317.26 344.19,317.33 345.79,317.46 347.27,317.64 348.60,317.90 349.42,318.17 350.19,318.55 350.92,318.98 351.60,319.42 352.26,319.82 352.88,320.13 353.50,320.31 354.10,320.30 354.66,320.08 355.17,319.68 355.65,319.15 356.11,318.53 356.58,317.89 357.05,317.27 357.56,316.72 358.10,316.30 358.65,315.99 359.21,315.72 359.79,315.48 360.39,315.28 361.00,315.11 361.62,314.98 362.26,314.87 362.90,314.80 363.63,314.77 364.37,314.81 365.12,314.90 365.88,315.02 366.67,315.17 367.48,315.32 368.33,315.47 369.20,315.60 370.41,315.77 371.71,315.96 373.05,316.16 374.44,316.36 375.85,316.56 377.26,316.74 378.65,316.89 380.00,317.00 381.40,317.06 382.99,317.09 384.65,317.10 386.27,317.08 387.73,317.06 388.91,317.03 389.71,317.01 390.00,317.00" stroke="#ffa200"/>
<polyline points="62.30,299.00 62.32,299.47 62.37,300.76 62.45,302.68 62.55,305.03 62.67,307.63 62.78,310.29 62.90,312.81 63.00,315.00 63.08,316.92 63.15,318.85 63.21,320.79 63.28,322.71 63.36,324.61 63.47,326.46 63.61,328.26 63.80,330.00 64.00,331.37 64.23,332.65 64.49,333.87 64.77,335.07 65.06,336.29 65.35,337.56 65.63,338.92 65.90,340.40 66.27,342.83 66.64,345.50 67.00,348.37 67.36,351.34 67.72,354.36 68.10,357.35 68.49,360.26 68.90,363.00 69.28,365.39 69.65,367.86 70.04,370.34 70.44,372.75 70.85,375.05 71.27,377.15 71.72,378.99 72.20,380.50 72.43,381.13 72.66,381.75 72.88,382.33 73.12,382.85 73.36,383.30 73.62,383.66 73.90,383.90 74.20,384.00 74.61,383.91 75.06,383.60 75.55,383.12 76.06,382.50 76.57,381.78 77.07,381.02 77.55,380.24 78.00,379.50 78.54,378.45 79.05,377.22 79.52,375.89 79.98,374.51 80.42,373.15 80.87,371.87 81.33,370.73 81.80,369.80 82.08,369.34 82.36,368.92 82.64,368.54 82.92,368.19 83.20,367.87 83.49,367.58 83.79,367.33 84.10,367.10 84.37,366.97 84.65,366.89 84.95,366.85 85.25,366.82 85.54,366.79 85.82,366.72 86.07,366.60 86.30,366.40 86.63,365.85 86.86,365.10 87.02,364.21 87.12,363.19 87.20,362.08 87.27,360.90 87.37,359.70 87.50,358.50 87.74,356.53 87.98,354.29 88.21,351.87 88.46,349.36 88.73,346.87 89.01,344.48 89.34,342.29 89.70,340.40 89.95,339.36 90.21,338.39 90.49,337.48 90.77,336.63 91.07,335.81 91.37,335.03 91.68,334.26 92.00,333.50 92.27,332.89 92.54,332.31 92.81,331.75 93.09,331.21 93.38,330.67 93.67,330.13 93.98,329.58 94.30,329.00 94.67,328.31 95.05,327.58 95.43,326.84 95.82,326.10 96.24,325.36 96.69,324.64 97.17,323.95 97.70,323.30 98.28,322.65 98.88,322.00 99.51,321.37 100.18,320.77 100.89,320.20 101.66,319.68 102.49,319.21 103.40,318.80 104.90,318.36 106.64,318.08 108.55,317.92 110.56,317.84 112.58,317.80 114.55,317.75 116.38,317.67 118.00,317.50 118.98,317.32 119.87,317.10 120.70,316.87 121.50,316.63 122.29,316.41 123.12,316.22 124.01,316.08 125.00,316.00 126.57,316.02 128.26,316.19 130.04,316.46 131.90,316.80 133.84,317.16 135.84,317.51 137.90,317.80 140.00,318.00 142.99,318.10 146.40,318.09 150.04,318.00 153.71,317.87 157.23,317.77 160.42,317.72 163.07,317.79 165.00,318.00 165.46,318.10 165.85,318.19 166.18,318.29 166.46,318.39 166.73,318.52 167.00,318.68 167.28,318.87 167.60,319.10 168.20,319.62 168.84,320.27 169.50,321.04 170.17,321.88 170.83,322.76 171.49,323.67 172.11,324.56 172.70,325.40 173.22,326.22 173.71,327.10 174.18,328.01 174.64,328.91 175.09,329.77 175.54,330.57 176.01,331.25 176.50,331.80 176.81,332.07 177.12,332.31 177.43,332.52 177.75,332.69 178.07,332.83 178.40,332.95 178.74,333.04 179.10,333.10 179.53,333.13 179.98,333.10 180.44,333.02 180.91,332.92 181.40,332.79 181.89,332.65 182.39,332.52 182.90,332.40 183.50,332.28 184.10,332.16 184.72,332.03 185.35,331.90 185.99,331.76 186.65,331.59 187.32,331.41 188.00,331.20 188.89,330.89 189.82,330.54 190.79,330.15 191.76,329.73 192.75,329.30 193.72,328.86 194.68,328.42 195.60,328.00 196.45,327.63 197.31,327.28 198.16,326.93 199.00,326.58 199.82,326.20 200.59,325.79 201.33,325.33 202.00,324.80 202.60,324.22 203.17,323.59 203.69,322.91 204.17,322.19 204.63,321.45 205.04,320.68 205.44,319.89 205.80,319.10 206.15,318.22 206.45,317.30 206.72,316.34 206.95,315.37 207.16,314.38 207.35,313.40 207.52,312.44 207.70,311.50 207.85,310.68 207.97,309.90 208.07,309.14 208.17,308.37 208.26,307.59 208.35,306.76 208.47,305.87 208.60,304.90 208.86,303.08 209.16,301.03 209.49,298.81 209.84,296.48 210.20,294.09 210.57,291.70 210.94,289.39 211.30,287.20 211.62,285.11 211.93,282.77 212.25,280.35 212.57,278.00 212.90,275.90 213.24,274.18 213.61,273.03 214.00,272.60 214.39,272.93 214.80,273.88 215.24,275.29 215.68,277.03 216.13,278.96 216.57,280.94 217.00,282.84 217.40,284.50 217.77,286.03 218.12,287.57 218.45,289.13 218.78,290.69 219.10,292.23 219.44,293.76 219.81,295.25 220.20,296.70 220.57,297.98 220.96,299.25 221.35,300.51 221.75,301.75 222.18,302.95 222.62,304.12 223.10,305.23 223.60,306.30 224.06,307.18 224.56,308.04 225.08,308.87 225.62,309.68 226.16,310.44 226.69,311.16 227.21,311.81 227.70,312.40 228.00,312.75 228.28,313.08 228.54,313.38 228.81,313.66 229.08,313.92 229.38,314.16 229.72,314.39 230.10,314.60 230.70,314.87 231.34,315.08 232.03,315.25 232.78,315.40 233.60,315.52 234.48,315.64 235.45,315.76 236.50,315.90 239.30,316.12 242.89,316.22 247.00,316.26 251.34,316.30 255.66,316.40 259.67,316.65 263.11,317.09 265.70,317.80 266.62,318.24 267.40,318.72 268.06,319.25 268.65,319.80 269.18,320.39 269.70,321.01 270.23,321.64 270.80,322.30 271.46,323.09 272.10,323.97 272.73,324.89 273.34,325.83 273.96,326.77 274.58,327.68 275.23,328.53 275.90,329.30 276.50,329.89 277.09,330.45 277.70,330.96 278.31,331.45 278.94,331.92 279.60,332.38 280.28,332.84 281.00,333.30 281.91,333.84 282.87,334.37 283.88,334.87 284.92,335.37 285.98,335.87 287.04,336.37 288.08,336.88 289.10,337.40 290.11,338.00 291.12,338.69 292.13,339.42 293.14,340.14 294.14,340.79 295.12,341.32 296.08,341.67 297.00,341.80 297.76,341.71 298.50,341.49 299.21,341.14 299.92,340.70 300.62,340.20 301.31,339.64 302.00,339.07 302.70,338.50 303.56,337.76 304.42,336.93 305.27,336.03 306.12,335.08 306.96,334.10 307.81,333.11 308.65,332.14 309.50,331.20 310.36,330.26 311.23,329.30 312.10,328.32 312.97,327.35 313.83,326.39 314.68,325.47 315.50,324.61 316.30,323.80 316.88,323.21 317.43,322.64 317.96,322.09 318.48,321.56 319.01,321.06 319.57,320.60 320.16,320.18 320.80,319.80 321.56,319.45 322.39,319.17 323.26,318.95 324.16,318.76 325.06,318.59 325.95,318.43 326.80,318.27 327.60,318.10 328.23,317.98 328.86,317.91 329.47,317.87 330.07,317.82 330.65,317.73 331.20,317.59 331.72,317.35 332.20,317.00 332.83,316.20 333.36,315.10 333.81,313.80 334.20,312.35 334.55,310.86 334.89,309.38 335.23,308.00 335.60,306.80 335.89,306.01 336.16,305.26 336.43,304.54 336.69,303.85 336.96,303.17 337.23,302.50 337.51,301.81 337.80,301.10 338.12,300.31 338.43,299.48 338.75,298.64 339.07,297.79 339.41,296.98 339.78,296.21 340.17,295.51 340.60,294.90 340.96,294.51 341.33,294.18 341.73,293.89 342.13,293.62 342.55,293.37 342.97,293.11 343.39,292.83 343.80,292.50 344.30,292.09 344.81,291.69 345.33,291.27 345.86,290.84 346.37,290.36 346.88,289.84 347.35,289.26 347.80,288.60 348.42,287.39 348.98,285.95 349.49,284.35 349.96,282.65 350.40,280.89 350.83,279.14 351.26,277.46 351.70,275.90 352.09,274.50 352.46,272.95 352.83,271.36 353.19,269.81 353.55,268.43 353.90,267.31 354.25,266.57 354.60,266.30 354.95,266.57 355.31,267.29 355.66,268.39 356.01,269.74 356.35,271.27 356.68,272.87 357.00,274.45 357.30,275.90 357.65,277.69 357.95,279.61 358.23,281.61 358.50,283.66 358.76,285.73 359.04,287.79 359.35,289.79 359.70,291.70 360.04,293.38 360.37,295.06 360.71,296.73 361.08,298.36 361.47,299.96 361.90,301.50 362.37,302.99 362.90,304.40 363.39,305.55 363.91,306.67 364.45,307.77 365.03,308.82 365.63,309.82 366.26,310.75 366.92,311.62 367.60,312.40 368.18,312.97 368.77,313.50 369.38,313.98 370.01,314.41 370.66,314.81 371.32,315.17 372.00,315.50 372.70,315.80 373.42,316.06 374.16,316.28 374.90,316.45 375.67,316.58 376.46,316.70 377.27,316.80 378.12,316.90 379.00,317.00 380.38,317.14 382.05,317.26 383.86,317.36 385.68,317.44 387.35,317.51 388.72,317.56 389.66,317.59 390.00,317.60" stroke="#df98e0"/>
<polyline points="62.70,310.50 62.72,310.28 62.77,309.66 62.84,308.76 62.94,307.64 63.05,306.42 63.16,305.18 63.28,304.01 63.40,303.00 63.50,302.20 63.60,301.44 63.70,300.71 63.81,299.97 63.93,299.22 64.07,298.44 64.22,297.60 64.40,296.70 64.73,295.15 65.13,293.41 65.58,291.54 66.06,289.60 66.56,287.64 67.06,285.72 67.54,283.89 68.00,282.20 68.34,280.94 68.68,279.71 69.01,278.51 69.35,277.34 69.68,276.21 70.01,275.13 70.35,274.09 70.70,273.10 70.96,272.32 71.22,271.48 71.48,270.64 71.74,269.84 72.01,269.12 72.29,268.55 72.58,268.16 72.90,268.00 73.25,268.13 73.63,268.53 74.02,269.13 74.42,269.88 74.84,270.71 75.26,271.57 75.68,272.38 76.10,273.10 76.55,273.77 77.03,274.42 77.52,275.07 78.01,275.72 78.49,276.39 78.96,277.09 79.40,277.82 79.80,278.60 80.23,279.60 80.63,280.66 80.99,281.77 81.33,282.92 81.64,284.10 81.94,285.29 82.22,286.50 82.50,287.70 82.76,289.04 82.95,290.45 83.11,291.90 83.26,293.35 83.43,294.78 83.64,296.16 83.92,297.44 84.30,298.60 84.67,299.40 85.09,300.13 85.56,300.80 86.05,301.45 86.56,302.07 87.06,302.69 87.55,303.33 88.00,304.00 88.43,304.68 88.86,305.37 89.28,306.06 89.69,306.75 90.10,307.45 90.48,308.16 90.85,308.87 91.20,309.60 91.52,310.34 91.82,311.10 92.10,311.86 92.37,312.63 92.62,313.41 92.87,314.19 93.13,314.99 93.40,315.80 93.68,316.78 93.92,317.90 94.15,319.08 94.38,320.25 94.64,321.33 94.95,322.25 95.33,322.93 95.80,323.30 96.28,323.33 96.82,323.13 97.41,322.76 98.03,322.27 98.68,321.72 99.33,321.17 99.98,320.68 100.60,320.30 101.16,320.02 101.71,319.77 102.26,319.52 102.81,319.30 103.38,319.08 103.96,318.88 104.56,318.69 105.20,318.50 106.05,318.29 106.97,318.11 107.93,317.95 108.92,317.80 109.91,317.66 110.88,317.52 111.82,317.37 112.70,317.20 113.40,317.06 114.10,316.93 114.78,316.81 115.45,316.68 116.09,316.53 116.70,316.36 117.27,316.15 117.80,315.90 118.19,315.62 118.55,315.26 118.88,314.85 119.19,314.44 119.48,314.05 119.78,313.73 120.08,313.50 120.40,313.40 120.70,313.45 120.97,313.60 121.24,313.84 121.52,314.13 121.81,314.45 122.13,314.77 122.49,315.06 122.90,315.30 123.74,315.63 124.75,315.92 125.87,316.19 127.07,316.44 128.31,316.66 129.54,316.86 130.71,317.04 131.80,317.20 132.62,317.32 133.37,317.43 134.08,317.52 134.79,317.59 135.52,317.66 136.31,317.71 137.20,317.76 138.20,317.80 140.75,317.81 143.90,317.72 147.46,317.56 151.24,317.37 155.07,317.20 158.76,317.09 162.13,317.08 165.00,317.20 166.53,317.39 167.95,317.69 169.27,318.05 170.53,318.41 171.73,318.75 172.92,319.00 174.10,319.14 175.30,319.10 176.47,318.83 177.61,318.35 178.75,317.72 179.86,317.04 180.97,316.37 182.06,315.81 183.13,315.42 184.20,315.30 185.18,315.47 186.14,315.89 187.09,316.46 188.02,317.12 188.96,317.79 189.89,318.40 190.84,318.86 191.80,319.10 192.74,319.14 193.69,319.05 194.66,318.87 195.62,318.61 196.58,318.29 197.54,317.93 198.48,317.56 199.40,317.20 200.32,316.75 201.25,316.16 202.17,315.49 203.08,314.82 203.96,314.20 204.82,313.72 205.63,313.43 206.40,313.40 207.04,313.70 207.63,314.29 208.17,315.08 208.69,315.96 209.20,316.83 209.73,317.60 210.29,318.15 210.90,318.40 211.62,318.24 212.38,317.72 213.17,316.95 213.98,316.05 214.80,315.13 215.64,314.30 216.47,313.69 217.30,313.40 218.07,313.45 218.84,313.71 219.62,314.12 220.40,314.63 221.19,315.19 221.99,315.72 222.79,316.18 223.60,316.50 224.34,316.70 225.04,316.84 225.73,316.94 226.42,317.01 227.17,317.05 227.99,317.10 228.93,317.14 230.00,317.20 233.78,317.28 238.90,317.20 244.90,317.05 251.33,316.89 257.73,316.81 263.63,316.89 268.57,317.19 272.10,317.80 273.02,318.12 273.80,318.47 274.45,318.86 275.03,319.27 275.56,319.69 276.07,320.13 276.61,320.57 277.20,321.00 277.84,321.46 278.46,321.94 279.08,322.44 279.70,322.95 280.32,323.44 280.96,323.93 281.62,324.38 282.30,324.80 283.06,325.19 283.87,325.56 284.71,325.89 285.56,326.21 286.39,326.52 287.19,326.81 287.94,327.11 288.60,327.40 288.99,327.60 289.34,327.79 289.65,327.97 289.96,328.16 290.26,328.34 290.58,328.52 290.92,328.71 291.30,328.90 291.91,329.21 292.57,329.58 293.28,329.97 294.02,330.35 294.77,330.70 295.53,330.98 296.28,331.15 297.00,331.20 297.72,331.11 298.44,330.91 299.16,330.62 299.87,330.24 300.58,329.81 301.29,329.33 302.00,328.82 302.70,328.30 303.57,327.58 304.42,326.75 305.27,325.85 306.11,324.88 306.96,323.89 307.80,322.89 308.65,321.92 309.50,321.00 310.34,320.13 311.19,319.27 312.04,318.41 312.88,317.55 313.74,316.71 314.59,315.86 315.44,315.03 316.30,314.20 317.16,313.40 318.06,312.61 318.97,311.83 319.88,311.05 320.76,310.27 321.61,309.49 322.39,308.70 323.10,307.90 323.64,307.22 324.13,306.55 324.59,305.87 325.01,305.19 325.41,304.50 325.79,303.79 326.15,303.06 326.50,302.30 326.84,301.44 327.14,300.54 327.40,299.61 327.64,298.67 327.87,297.71 328.12,296.76 328.39,295.82 328.70,294.90 329.06,293.90 329.44,292.77 329.85,291.59 330.27,290.44 330.69,289.41 331.11,288.57 331.52,288.00 331.90,287.80 332.22,287.95 332.54,288.36 332.85,288.98 333.15,289.76 333.45,290.63 333.74,291.55 334.02,292.45 334.30,293.30 334.63,294.37 334.93,295.54 335.20,296.76 335.47,298.03 335.75,299.30 336.04,300.55 336.35,301.76 336.70,302.90 337.03,303.87 337.37,304.83 337.72,305.77 338.09,306.69 338.47,307.59 338.88,308.44 339.32,309.25 339.80,310.00 340.22,310.61 340.66,311.19 341.10,311.75 341.57,312.27 342.07,312.76 342.60,313.22 343.18,313.63 343.80,314.00 344.65,314.35 345.61,314.60 346.64,314.78 347.72,314.91 348.81,315.03 349.85,315.17 350.83,315.35 351.70,315.60 352.28,315.87 352.82,316.20 353.32,316.57 353.80,316.94 354.26,317.29 354.73,317.59 355.20,317.80 355.70,317.90 356.18,317.87 356.65,317.72 357.12,317.49 357.60,317.22 358.08,316.93 358.59,316.66 359.13,316.44 359.70,316.30 360.54,316.23 361.43,316.24 362.37,316.32 363.36,316.44 364.38,316.60 365.43,316.77 366.50,316.94 367.60,317.10 369.09,317.33 370.69,317.63 372.38,317.97 374.09,318.31 375.80,318.63 377.45,318.89 379.00,319.06 380.40,319.10 381.30,319.05 382.15,318.95 382.96,318.81 383.74,318.64 384.49,318.44 385.23,318.23 385.97,318.02 386.70,317.80 387.36,317.58 388.00,317.32 388.63,317.04 389.24,316.76 389.86,316.48 390.49,316.24 391.13,316.04 391.80,315.90 392.54,315.83 393.29,315.82 394.04,315.85 394.81,315.93 395.60,316.02 396.43,316.13 397.29,316.22 398.20,316.30 399.49,316.40 400.77,316.51 402.08,316.63 403.48,316.75 405.01,316.88 406.72,316.99 408.67,317.10 410.90,317.20 421.43,317.41 437.21,317.53 456.19,317.57 476.32,317.56 495.55,317.52 511.82,317.47 523.09,317.42 527.30,317.40" stroke="#005e00"/>
</g>
<text x="62.50" y="411.3" text-anchor="middle" font-size="13">0</text>
<text x="108.98" y="411.3" text-anchor="middle" font-size="13">10</text>
<text x="155.46" y="411.3" text-anchor="middle" font-size="13">20</text>
<text x="201.94" y="411.3" text-anchor="middle" font-size="13">30</text>
<text x="248.42" y="411.3" text-anchor="middle" font-size="13">40</text>
<text x="294.90" y="411.3" text-anchor="middle" font-size="13">50</text>
<text x="341.38" y="411.3" text-anchor="middle" font-size="13">60</text>
<text x="387.86" y="411.3" text-anchor="middle" font-size="13">70</text>
<text x="434.34" y="411.3" text-anchor="middle" font-size="13">80</text>
<text x="480.82" y="411.3" text-anchor="middle" font-size="13">90</text>
<text x="527.30" y="411.3" text-anchor="middle" font-size="13">100</text>
<text x="58.8" y="247.1" text-anchor="end" font-size="13">20</text>
<text x="58.8" y="284.9" text-anchor="end" font-size="13">10</text>
<text x="58.8" y="322.7" text-anchor="end" font-size="13">0</text>
<text x="59.5" y="363.7" text-anchor="end" font-size="13">-10</text>
<text x="59.5" y="401.5" text-anchor="end" font-size="13">-20</text>
<text x="294.9" y="429.6" text-anchor="middle" font-size="14">time</text>
<text transform="translate(27.0,317.5) rotate(-90)" text-anchor="middle" font-size="14">velocity error<tspan font-size="11.6" dy="6.5">y</tspan></text>
<text x="295.3" y="235.9" text-anchor="middle" font-size="14.1">The velocity error of followers in Y-axis direction</text>
<rect x="436.5" y="250.5" width="79" height="62.7" fill="#fff" stroke="#3a3a3a" stroke-width="1.1"/>
<line x1="440.5" y1="262.1" x2="483.2" y2="262.1" stroke="#ffa200" stroke-width="3.2"/>
<text x="486.4" y="265.1" font-size="12">ev5<tspan font-size="10" dy="4.8">y</tspan></text>
<line x1="440.5" y1="281.9" x2="483.2" y2="281.9" stroke="#df98e0" stroke-width="3.2"/>
<text x="486.4" y="284.9" font-size="12">ev6<tspan font-size="10" dy="4.8">y</tspan></text>
<line x1="440.5" y1="301.7" x2="483.2" y2="301.7" stroke="#005e00" stroke-width="3.2"/>
<text x="486.4" y="304.7" font-size="12">ev7<tspan font-size="10" dy="4.8">y</tspan></text>
</svg>
</body></html>
